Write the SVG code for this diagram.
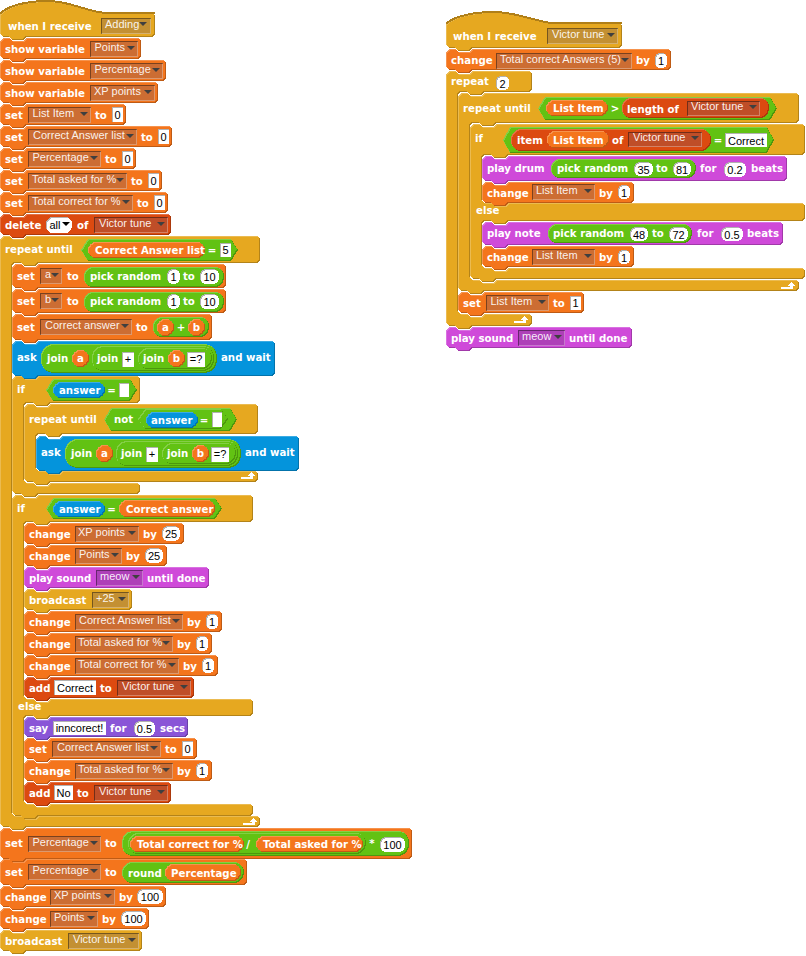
<svg xmlns="http://www.w3.org/2000/svg" width="806" height="956" viewBox="0 0 806 956">
<style>
text{white-space:pre}
.t{font:bold 10.2px "DejaVu Sans",sans-serif;fill:#fff}
.d{font:11px "Liberation Sans",sans-serif;fill:#fff;fill-opacity:.92}
.n{font:11px "Liberation Sans",sans-serif;fill:#000;text-anchor:middle}
.c{text-anchor:middle}
path,rect{shape-rendering:crispEdges}
.b{filter:url(#up)}
.ctl{fill:#e6a820}.var{fill:#f4751c}.lst{fill:#dc4a10}.lks{fill:#8a55d7}.snd{fill:#cf4ad9}.sen{fill:#0494dc}.op{fill:#62c213}
.dv{fill:#cc6d33;filter:url(#in)}.dc{fill:#c39033;filter:url(#in)}.dl{fill:#bf4e28;filter:url(#in)}.ds{fill:#ae40b8;filter:url(#in)}.da{fill:#fff;filter:url(#iw)}
.w{fill:#fff;filter:url(#iw)}
.h{fill:none;stroke:#b07f18;stroke-width:2}
</style>
<defs>
<filter id="up" x="-5%" y="-5%" width="110%" height="110%" color-interpolation-filters="sRGB">
<feOffset in="SourceAlpha" dx="-1" dy="-1" result="a"/><feComposite in="SourceAlpha" in2="a" operator="out" result="e1"/>
<feFlood flood-color="#000" flood-opacity=".22"/><feComposite in2="e1" operator="in" result="dk"/>
<feOffset in="SourceAlpha" dx="1" dy="1" result="c"/><feComposite in="SourceAlpha" in2="c" operator="out" result="e2"/>
<feFlood flood-color="#fff" flood-opacity=".22"/><feComposite in2="e2" operator="in" result="lt"/>
<feMerge><feMergeNode in="SourceGraphic"/><feMergeNode in="dk"/><feMergeNode in="lt"/></feMerge>
</filter>
<filter id="in" x="-5%" y="-5%" width="110%" height="110%" color-interpolation-filters="sRGB">
<feOffset in="SourceAlpha" dx="-1" dy="-1" result="a"/><feComposite in="SourceAlpha" in2="a" operator="out" result="e1"/>
<feFlood flood-color="#fff" flood-opacity=".3"/><feComposite in2="e1" operator="in" result="lt"/>
<feOffset in="SourceAlpha" dx="1" dy="1" result="c"/><feComposite in="SourceAlpha" in2="c" operator="out" result="e2"/>
<feFlood flood-color="#000" flood-opacity=".4"/><feComposite in2="e2" operator="in" result="dk"/>
<feMerge><feMergeNode in="SourceGraphic"/><feMergeNode in="lt"/><feMergeNode in="dk"/></feMerge>
</filter>
<filter id="iw" x="-5%" y="-5%" width="110%" height="110%" color-interpolation-filters="sRGB">
<feOffset in="SourceAlpha" dx="1" dy="1" result="c"/><feComposite in="SourceAlpha" in2="c" operator="out" result="e2"/>
<feFlood flood-color="#000" flood-opacity=".3"/><feComposite in2="e2" operator="in" result="dk"/>
<feMerge><feMergeNode in="SourceGraphic"/><feMergeNode in="dk"/></feMerge>
</filter>
<polygon id="v" points="0,0 8,0 4,4" fill="#3f3f3f"/>
<polygon id="vb" points="0,0 8,0 4,4" fill="#000"/>
<g id="loop"><path d="M0,4H9V3H7L10.500,-1L14,3H12V6H0z" fill="#fff"/></g>
</defs>

<!-- LEFT SCRIPT -->
<g id="hat-adding">
<path class="b ctl" transform="translate(0,0)" d="M0,14C8,5 28,1 48,1C70,1 85,11 105,13H152l3,3V34l-3,3H26l-3,3H12l-3-3H3l-3-3z"/>
<path class="h" d="M0,14C8,5 28,1 48,1C70,1 85,11 105,13H155"/>
<text class="t" x="8" y="30">when I receive</text>
<rect class="dc" x="101" y="18" width="50" height="16"/><text class="d" x="105" y="28">Adding</text><use href="#v" x="139" y="22"/>
</g>
<g id="show-points">
<path class="b var" transform="translate(0,38)" d="M3,0h6l3,3h11l3-3H138l3,3V18l-3,3H26l-3,3H12l-3-3H3l-3-3V3z"/>
<text class="t" x="5" y="53">show variable</text>
<rect class="dv" x="90" y="41" width="48" height="16"/><text class="d" x="94.5" y="51">Points</text><use href="#v" x="127" y="46"/>
</g>
<g id="show-percentage">
<path class="b var" transform="translate(0,60)" d="M3,0h6l3,3h11l3-3H163l3,3V18l-3,3H26l-3,3H12l-3-3H3l-3-3V3z"/>
<text class="t" x="5" y="75">show variable</text>
<rect class="dv" x="90" y="63" width="73" height="16"/><text class="d" x="94.5" y="73">Percentage</text><use href="#v" x="152" y="68"/>
</g>
<g id="show-xp">
<path class="b var" transform="translate(0,82)" d="M3,0h6l3,3h11l3-3H155l3,3V18l-3,3H26l-3,3H12l-3-3H3l-3-3V3z"/>
<text class="t" x="5" y="97">show variable</text>
<rect class="dv" x="90" y="85" width="65" height="16"/><text class="d" x="94" y="95">XP points</text><use href="#v" x="144" y="90"/>
</g>
<g id="set-list-item">
<path class="b var" transform="translate(0,104)" d="M3,0h6l3,3h11l3-3H123l3,3V18l-3,3H26l-3,3H12l-3-3H3l-3-3V3z"/>
<text class="t" x="5" y="119">set</text>
<rect class="dv" x="28" y="107" width="63" height="16"/><text class="d" x="32.5" y="117">List Item</text><use href="#v" x="80" y="112"/>
<text class="t" x="95" y="119">to</text>
<rect class="w" x="112" y="107" width="11" height="15"/><text class="n" x="117.5" y="119">0</text>
</g>
<g id="set-correct-list">
<path class="b var" transform="translate(0,126)" d="M3,0h6l3,3h11l3-3H169l3,3V18l-3,3H26l-3,3H12l-3-3H3l-3-3V3z"/>
<text class="t" x="5" y="141">set</text>
<rect class="dv" x="28" y="129" width="109" height="16"/><text class="d" x="33" y="139">Correct Answer list</text><use href="#v" x="126" y="134"/>
<text class="t" x="141" y="141">to</text>
<rect class="w" x="158" y="129" width="11" height="15"/><text class="n" x="163.5" y="141">0</text>
</g>
<g id="set-percentage">
<path class="b var" transform="translate(0,148)" d="M3,0h6l3,3h11l3-3H133l3,3V18l-3,3H26l-3,3H12l-3-3H3l-3-3V3z"/>
<text class="t" x="5" y="163">set</text>
<rect class="dv" x="28" y="151" width="73" height="16"/><text class="d" x="32.5" y="161">Percentage</text><use href="#v" x="90" y="156"/>
<text class="t" x="105" y="163">to</text>
<rect class="w" x="122" y="151" width="11" height="15"/><text class="n" x="127.5" y="163">0</text>
</g>
<g id="set-total-asked">
<path class="b var" transform="translate(0,170)" d="M3,0h6l3,3h11l3-3H159l3,3V18l-3,3H26l-3,3H12l-3-3H3l-3-3V3z"/>
<text class="t" x="5" y="185">set</text>
<rect class="dv" x="28" y="173" width="99" height="16"/><text class="d" x="32" y="183">Total asked for %</text><use href="#v" x="116" y="178"/>
<text class="t" x="131" y="185">to</text>
<rect class="w" x="148" y="173" width="11" height="15"/><text class="n" x="153.5" y="185">0</text>
</g>
<g id="set-total-correct">
<path class="b var" transform="translate(0,192)" d="M3,0h6l3,3h11l3-3H165l3,3V18l-3,3H26l-3,3H12l-3-3H3l-3-3V3z"/>
<text class="t" x="5" y="207">set</text>
<rect class="dv" x="28" y="195" width="105" height="16"/><text class="d" x="32" y="205">Total correct for %</text><use href="#v" x="122" y="200"/>
<text class="t" x="137" y="207">to</text>
<rect class="w" x="154" y="195" width="11" height="15"/><text class="n" x="159.5" y="207">0</text>
</g>
<g id="delete-all">
<path class="b lst" transform="translate(0,214)" d="M3,0h6l3,3h11l3-3H168l3,3V18l-3,3H26l-3,3H12l-3-3H3l-3-3V3z"/>
<text class="t" x="5" y="229">delete</text>
<rect class="da" x="46" y="217" width="26" height="16" rx="7"/><text class="n" x="55" y="229">all</text><use href="#vb" x="62" y="222"/>
<text class="t" x="77" y="229">of</text>
<rect class="dl" x="94" y="217" width="74" height="16"/><text class="d" x="99" y="227">Victor tune</text><use href="#v" x="157" y="222"/>
</g>
<g id="repeat-until-5">
<path class="b ctl" transform="translate(0,236)" d="M3,0h6l3,3h11l3-3H257l3,3V24l-3,3H38l-3,3H24l-3-3H14l-2,2V578l2,2H21l3,3h11l3-3H257l3,3V588l-3,3H26l-3,3H12l-3-3H3l-3-3V3z"/>
<text class="t" x="5" y="253">repeat until</text>
<path class="b op" d="M88,239H231L238,250L231,261H88L81,250z"/>
<rect class="b var" x="88" y="242" width="117" height="16" rx="8"/><text class="t" x="95" y="254">Correct Answer list</text>
<text class="t c" x="212" y="254">=</text>
<rect class="w" x="220" y="243" width="11" height="14"/><text class="n" x="225.5" y="254">5</text>
<use href="#loop" x="243" y="819"/>
</g>
<g id="set-a">
<path class="b var" transform="translate(12,264)" d="M3,0h6l3,3h11l3-3H211l3,3V21l-3,3H26l-3,3H12l-3-3H3l-3-3V3z"/>
<text class="t" x="17" y="280">set</text>
<rect class="dv" x="40" y="268" width="22" height="16"/><text class="d" x="45" y="278">a</text><use href="#v" x="51" y="273"/>
<text class="t" x="67" y="280">to</text>
<rect class="b op" x="84" y="267" width="140" height="20" rx="9"/><text class="t" x="90" y="280">pick random</text>
<rect class="w" x="167" y="269" width="13" height="15" rx="6"/><text class="n" x="173.5" y="281">1</text>
<text class="t" x="183" y="280">to</text>
<rect class="w" x="200" y="269" width="19" height="15" rx="6"/><text class="n" x="209.5" y="281">10</text>
</g>
<g id="set-b">
<path class="b var" transform="translate(12,289)" d="M3,0h6l3,3h11l3-3H211l3,3V21l-3,3H26l-3,3H12l-3-3H3l-3-3V3z"/>
<text class="t" x="17" y="305">set</text>
<rect class="dv" x="40" y="293" width="22" height="16"/><text class="d" x="45" y="303">b</text><use href="#v" x="51" y="298"/>
<text class="t" x="67" y="305">to</text>
<rect class="b op" x="84" y="292" width="140" height="20" rx="9"/><text class="t" x="90" y="305">pick random</text>
<rect class="w" x="167" y="294" width="13" height="15" rx="6"/><text class="n" x="173.5" y="306">1</text>
<text class="t" x="183" y="305">to</text>
<rect class="w" x="200" y="294" width="19" height="15" rx="6"/><text class="n" x="209.5" y="306">10</text>
</g>
<g id="set-correct-answer">
<path class="b var" transform="translate(12,314)" d="M3,0h6l3,3h11l3-3H197l3,3V23l-3,3H26l-3,3H12l-3-3H3l-3-3V3z"/>
<text class="t" x="17" y="331">set</text>
<rect class="dv" x="40" y="319" width="92" height="16"/><text class="d" x="45" y="329">Correct answer</text><use href="#v" x="121" y="324"/>
<text class="t" x="136" y="331">to</text>
<rect class="b op" x="153" y="317" width="56" height="20" rx="9"/>
<rect class="b var" x="157" y="319" width="17" height="17" rx="8"/><text class="t c" x="165.500" y="331">a</text>
<text class="t c" x="181" y="331">+</text>
<rect class="b var" x="188" y="319" width="17" height="17" rx="8"/><text class="t c" x="196.500" y="331">b</text>
</g>
<g id="ask-join">
<path class="b sen" transform="translate(12,341)" d="M3,0h6l3,3h11l3-3H260l3,3V32l-3,3H26l-3,3H12l-3-3H3l-3-3V3z"/>
<text class="t" x="17" y="361">ask</text>
<rect class="b op" x="41" y="344" width="176" height="29" rx="13"/><text class="t" x="47" y="362">join</text>
<rect class="b var" x="72" y="350" width="17" height="17" rx="8"/><text class="t c" x="80.500" y="362">a</text>
<rect class="b op" x="92" y="346" width="122" height="25" rx="11"/><text class="t" x="97" y="362">join</text>
<rect class="w" x="122" y="352" width="12" height="15"/><text class="n" x="128" y="363">+</text>
<rect class="b op" x="138" y="348" width="74" height="21" rx="10"/><text class="t" x="143" y="362">join</text>
<rect class="b var" x="168" y="350" width="17" height="17" rx="8"/><text class="t c" x="176.500" y="362">b</text>
<rect class="w" x="187" y="352" width="18" height="15"/><text class="n" x="196" y="363">=?</text>
<text class="t" x="221" y="361">and wait</text>
</g>
<g id="if-answer-empty">
<path class="b ctl" transform="translate(12,376)" d="M3,0h6l3,3h11l3-3H125l3,3V24l-3,3H38l-3,3H24l-3-3H14l-2,2V105l2,2H21l3,3h11l3-3H125l3,3V115l-3,3H26l-3,3H12l-3-3H3l-3-3V3z"/>
<text class="t" x="17" y="393">if</text>
<path class="b op" d="M53,379H130L137,390L130,401H53L46,390z"/>
<rect class="b sen" x="53" y="382" width="52" height="16" rx="8"/><text class="t" x="59" y="394">answer</text>
<text class="t c" x="111.500" y="394">=</text>
<rect class="w" x="119" y="383" width="10" height="14"/>
</g>
<g id="repeat-until-not">
<path class="b ctl" transform="translate(24,404)" d="M3,0h6l3,3h11l3-3H231l3,3V27l-3,3H38l-3,3H24l-3-3H14l-2,2V65l2,2H21l3,3h11l3-3H231l3,3V75l-3,3H26l-3,3H12l-3-3H3l-3-3V3z"/>
<text class="t" x="29" y="423">repeat until</text>
<path class="b op" d="M111,408H230L237,419.500L230,431H111L104,419.500z"/>
<text class="t" x="114" y="423">not</text>
<path class="b op" d="M145,409H221L228,419L221,429H145L138,419z"/>
<rect class="b sen" x="146" y="412" width="52" height="16" rx="8"/><text class="t" x="151" y="424">answer</text>
<text class="t c" x="204" y="424">=</text>
<rect class="w" x="212" y="412" width="10" height="15"/>
<use href="#loop" x="241" y="473"/>
</g>
<g id="ask-join-2">
<path class="b sen" transform="translate(36,436)" d="M3,0h6l3,3h11l3-3H260l3,3V32l-3,3H26l-3,3H12l-3-3H3l-3-3V3z"/>
<text class="t" x="41" y="456">ask</text>
<rect class="b op" x="65" y="439" width="176" height="29" rx="13"/><text class="t" x="71" y="457">join</text>
<rect class="b var" x="96" y="445" width="17" height="17" rx="8"/><text class="t c" x="104.500" y="457">a</text>
<rect class="b op" x="116" y="441" width="122" height="25" rx="11"/><text class="t" x="121" y="457">join</text>
<rect class="w" x="146" y="447" width="12" height="15"/><text class="n" x="152" y="458">+</text>
<rect class="b op" x="162" y="443" width="74" height="21" rx="10"/><text class="t" x="167" y="457">join</text>
<rect class="b var" x="192" y="445" width="17" height="17" rx="8"/><text class="t c" x="200.500" y="457">b</text>
<rect class="w" x="211" y="447" width="18" height="15"/><text class="n" x="220" y="458">=?</text>
<text class="t" x="245" y="456">and wait</text>
</g>
<g id="if-answer-correct">
<path class="b ctl" transform="translate(12,495)" d="M3,0h6l3,3h11l3-3H238l3,3V24l-3,3H38l-3,3H24l-3-3H14l-2,2V202l2,2H21l3,3h11l3-3H238l3,3V218l-3,3H38l-3,3H24l-3-3H14l-2,2V307l2,2H21l3,3h11l3-3H238l3,3V318l-3,3H26l-3,3H12l-3-3H3l-3-3V3z"/>
<text class="t" x="17" y="512">if</text>
<path class="b op" d="M53,498H215L222,508.500L215,519H53L46,508.500z"/>
<rect class="b sen" x="53" y="501" width="52" height="16" rx="8"/><text class="t" x="59" y="513">answer</text>
<text class="t c" x="111.500" y="513">=</text>
<rect class="b var" x="119" y="500" width="96" height="17" rx="8"/><text class="t" x="126" y="513">Correct answer</text>
<text class="t" x="18" y="710">else</text>
</g>
<g id="change-xp-25">
<path class="b var" transform="translate(24,523)" d="M3,0h6l3,3h11l3-3H157l3,3V18l-3,3H26l-3,3H12l-3-3H3l-3-3V3z"/>
<text class="t" x="29" y="538">change</text>
<rect class="dv" x="75" y="526" width="64" height="16"/><text class="d" x="78" y="536">XP points</text><use href="#v" x="128" y="531"/>
<text class="t" x="143" y="538">by</text>
<rect class="w" x="162" y="526" width="18" height="15" rx="6"/><text class="n" x="171" y="538">25</text>
</g>
<g id="change-points-25">
<path class="b var" transform="translate(24,545)" d="M3,0h6l3,3h11l3-3H140l3,3V18l-3,3H26l-3,3H12l-3-3H3l-3-3V3z"/>
<text class="t" x="29" y="560">change</text>
<rect class="dv" x="75" y="548" width="47" height="16"/><text class="d" x="79" y="558">Points</text><use href="#v" x="111" y="553"/>
<text class="t" x="126" y="560">by</text>
<rect class="w" x="145" y="548" width="18" height="15" rx="6"/><text class="n" x="154" y="560">25</text>
</g>
<g id="play-meow-1">
<path class="b snd" transform="translate(24,567)" d="M3,0h6l3,3h11l3-3H182l3,3V18l-3,3H26l-3,3H12l-3-3H3l-3-3V3z"/>
<text class="t" x="29" y="582">play sound</text>
<rect class="ds" x="96" y="570" width="47" height="16"/><text class="d" x="100" y="580">meow</text><use href="#v" x="132" y="575"/>
<text class="t" x="147" y="582">until done</text>
</g>
<g id="broadcast-25">
<path class="b ctl" transform="translate(24,589)" d="M3,0h6l3,3h11l3-3H105l3,3V18l-3,3H26l-3,3H12l-3-3H3l-3-3V3z"/>
<text class="t" x="29" y="604">broadcast</text>
<rect class="dc" x="92" y="592" width="37" height="16"/><text class="d" x="96" y="602">+25</text><use href="#v" x="118" y="597"/>
</g>
<g id="change-correct-list">
<path class="b var" transform="translate(24,611)" d="M3,0h6l3,3h11l3-3H195l3,3V18l-3,3H26l-3,3H12l-3-3H3l-3-3V3z"/>
<text class="t" x="29" y="626">change</text>
<rect class="dv" x="75" y="614" width="108" height="16"/><text class="d" x="79" y="624">Correct Answer list</text><use href="#v" x="172" y="619"/>
<text class="t" x="187" y="626">by</text>
<rect class="w" x="206" y="614" width="12" height="15" rx="5"/><text class="n" x="212" y="626">1</text>
</g>
<g id="change-total-asked">
<path class="b var" transform="translate(24,633)" d="M3,0h6l3,3h11l3-3H185l3,3V18l-3,3H26l-3,3H12l-3-3H3l-3-3V3z"/>
<text class="t" x="29" y="648">change</text>
<rect class="dv" x="75" y="636" width="98" height="16"/><text class="d" x="78" y="646">Total asked for %</text><use href="#v" x="162" y="641"/>
<text class="t" x="177" y="648">by</text>
<rect class="w" x="196" y="636" width="12" height="15" rx="5"/><text class="n" x="202" y="648">1</text>
</g>
<g id="change-total-correct">
<path class="b var" transform="translate(24,655)" d="M3,0h6l3,3h11l3-3H191l3,3V18l-3,3H26l-3,3H12l-3-3H3l-3-3V3z"/>
<text class="t" x="29" y="670">change</text>
<rect class="dv" x="75" y="658" width="104" height="16"/><text class="d" x="78" y="668">Total correct for %</text><use href="#v" x="168" y="663"/>
<text class="t" x="183" y="670">by</text>
<rect class="w" x="202" y="658" width="12" height="15" rx="5"/><text class="n" x="208" y="670">1</text>
</g>
<g id="add-correct">
<path class="b lst" transform="translate(24,677)" d="M3,0h6l3,3h11l3-3H167l3,3V18l-3,3H26l-3,3H12l-3-3H3l-3-3V3z"/>
<text class="t" x="29" y="692">add</text>
<rect class="w" x="54" y="680" width="42" height="15"/><text class="n" x="75" y="692">Correct</text>
<text class="t" x="100" y="692">to</text>
<rect class="dl" x="117" y="680" width="74" height="16"/><text class="d" x="122" y="690">Victor tune</text><use href="#v" x="180" y="685"/>
</g>
<g id="say-inncorect">
<path class="b lks" transform="translate(24,717)" d="M3,0h6l3,3h11l3-3H161l3,3V17l-3,3H26l-3,3H12l-3-3H3l-3-3V3z"/>
<text class="t" x="29" y="732">say</text>
<rect class="w" x="53" y="721" width="53" height="14"/><text class="n" x="79.500" y="732">inncorect!</text>
<text class="t" x="110" y="732">for</text>
<rect class="w" x="134" y="721" width="21" height="15" rx="6"/><text class="n" x="144.500" y="733">0.5</text>
<text class="t" x="160" y="732">secs</text>
</g>
<g id="set-correct-list-0">
<path class="b var" transform="translate(24,738)" d="M3,0h6l3,3h11l3-3H170l3,3V18l-3,3H26l-3,3H12l-3-3H3l-3-3V3z"/>
<text class="t" x="29" y="753">set</text>
<rect class="dv" x="52" y="741" width="109" height="16"/><text class="d" x="57" y="751">Correct Answer list</text><use href="#v" x="150" y="746"/>
<text class="t" x="165" y="753">to</text>
<rect class="w" x="182" y="741" width="11" height="15"/><text class="n" x="187.500" y="753">0</text>
</g>
<g id="change-total-asked-2">
<path class="b var" transform="translate(24,760)" d="M3,0h6l3,3h11l3-3H185l3,3V18l-3,3H26l-3,3H12l-3-3H3l-3-3V3z"/>
<text class="t" x="29" y="775">change</text>
<rect class="dv" x="75" y="763" width="98" height="16"/><text class="d" x="78" y="773">Total asked for %</text><use href="#v" x="162" y="768"/>
<text class="t" x="177" y="775">by</text>
<rect class="w" x="196" y="763" width="12" height="15" rx="5"/><text class="n" x="202" y="775">1</text>
</g>
<g id="add-no">
<path class="b lst" transform="translate(24,782)" d="M3,0h6l3,3h11l3-3H144l3,3V18l-3,3H26l-3,3H12l-3-3H3l-3-3V3z"/>
<text class="t" x="29" y="797">add</text>
<rect class="w" x="54" y="785" width="19" height="15"/><text class="n" x="63.500" y="797">No</text>
<text class="t" x="77" y="797">to</text>
<rect class="dl" x="94" y="785" width="74" height="16"/><text class="d" x="99" y="795">Victor tune</text><use href="#v" x="157" y="790"/>
</g>
<g id="set-percentage-calc">
<path class="b var" transform="translate(0,828)" d="M3,0h6l3,3h11l3-3H409l3,3V28l-3,3H26l-3,3H12l-3-3H3l-3-3V3z"/>
<text class="t" x="5" y="847">set</text>
<rect class="dv" x="28" y="836" width="73" height="16"/><text class="d" x="32.500" y="846">Percentage</text><use href="#v" x="90" y="841"/>
<text class="t" x="105" y="847">to</text>
<rect class="b op" x="122" y="831" width="287" height="25" rx="11"/>
<rect class="b op" x="128" y="833" width="238" height="21" rx="10"/>
<rect class="b var" x="130" y="836" width="114" height="16" rx="8"/><text class="t" x="137" y="848">Total correct for %</text>
<text class="t c" x="248" y="848">/</text>
<rect class="b var" x="256" y="836" width="107" height="16" rx="8"/><text class="t" x="263" y="848">Total asked for %</text>
<text class="t c" x="372" y="847">*</text>
<rect class="w" x="380" y="837" width="25" height="15" rx="6"/><text class="n" x="392.500" y="849">100</text>
</g>
<g id="set-percentage-round">
<path class="b var" transform="translate(0,859)" d="M3,0h6l3,3h11l3-3H244l3,3V23l-3,3H26l-3,3H12l-3-3H3l-3-3V3z"/>
<text class="t" x="5" y="876">set</text>
<rect class="dv" x="28" y="864" width="73" height="16"/><text class="d" x="32.500" y="874">Percentage</text><use href="#v" x="90" y="869"/>
<text class="t" x="105" y="876">to</text>
<rect class="b op" x="122" y="862" width="122" height="21" rx="10"/><text class="t" x="128" y="877">round</text>
<rect class="b var" x="165" y="864" width="76" height="17" rx="8"/><text class="t" x="171" y="877">Percentage</text>
</g>
<g id="change-xp-100">
<path class="b var" transform="translate(0,886)" d="M3,0h6l3,3h11l3-3H163l3,3V18l-3,3H26l-3,3H12l-3-3H3l-3-3V3z"/>
<text class="t" x="5" y="901">change</text>
<rect class="dv" x="50" y="889" width="65" height="16"/><text class="d" x="54" y="899">XP points</text><use href="#v" x="104" y="894"/>
<text class="t" x="119" y="901">by</text>
<rect class="w" x="137" y="889" width="26" height="15" rx="6"/><text class="n" x="150" y="901">100</text>
</g>
<g id="change-points-100">
<path class="b var" transform="translate(0,908)" d="M3,0h6l3,3h11l3-3H146l3,3V18l-3,3H26l-3,3H12l-3-3H3l-3-3V3z"/>
<text class="t" x="5" y="923">change</text>
<rect class="dv" x="50" y="911" width="48" height="16"/><text class="d" x="54" y="921">Points</text><use href="#v" x="87" y="916"/>
<text class="t" x="102" y="923">by</text>
<rect class="w" x="121" y="911" width="25" height="15" rx="6"/><text class="n" x="133.500" y="923">100</text>
</g>
<g id="broadcast-victor">
<path class="b ctl" transform="translate(0,930)" d="M3,0h6l3,3h11l3-3H139l3,3V18l-3,3H26l-3,3H12l-3-3H3l-3-3V3z"/>
<text class="t" x="5" y="945">broadcast</text>
<rect class="dc" x="68" y="933" width="71" height="16"/><text class="d" x="73" y="943">Victor tune</text><use href="#v" x="128" y="938"/>
</g>

<!-- RIGHT SCRIPT -->
<g id="hat-victor">
<path class="b ctl" transform="translate(446,11)" d="M0,13C8,5 28,1 48,1C70,1 85,9 105,12H173l3,3V34l-3,3H26l-3,3H12l-3-3H3l-3-3z"/>
<path class="h" transform="translate(446,11)" d="M0,13C8,5 28,1 48,1C70,1 85,9 105,12H176"/>
<text class="t" x="453" y="40">when I receive</text>
<rect class="dc" x="547" y="28" width="71" height="16"/><text class="d" x="552" y="38">Victor tune</text><use href="#v" x="607" y="33"/>
</g>
<g id="change-total-correct-answers">
<path class="b var" transform="translate(446,49)" d="M3,0h6l3,3h11l3-3H222l3,3V18l-3,3H26l-3,3H12l-3-3H3l-3-3V3z"/>
<text class="t" x="451" y="64">change</text>
<rect class="dv" x="496" y="53" width="136" height="16"/><text class="d" x="500" y="63">Total correct Answers (5)</text><use href="#v" x="621" y="58"/>
<text class="t" x="636" y="64">by</text>
<rect class="w" x="655" y="53" width="12" height="15" rx="5"/><text class="n" x="661" y="65">1</text>
</g>
<g id="repeat-2">
<path class="b ctl" transform="translate(446,71)" d="M3,0h6l3,3h11l3-3H83l3,3V18l-3,3H38l-3,3H24l-3-3H14l-2,2V241l2,2H21l3,3h11l3-3H83l3,3V252l-3,3H26l-3,3H12l-3-3H3l-3-3V3z"/>
<text class="t" x="451" y="85">repeat</text>
<rect class="w" x="496" y="76" width="13" height="14" rx="5"/><text class="n" x="502.500" y="88">2</text>
<use href="#loop" x="514" y="317"/>
</g>
<g id="repeat-until-length">
<path class="b ctl" transform="translate(458,93)" d="M3,0h6l3,3h11l3-3H338l3,3V27l-3,3H38l-3,3H24l-3-3H14l-2,2V185l2,2H21l3,3h11l3-3H338l3,3V195l-3,3H26l-3,3H12l-3-3H3l-3-3V3z"/>
<text class="t" x="463" y="112">repeat until</text>
<path class="b op" d="M545,97H770L777,108.500L770,120H545L538,108.500z"/>
<rect class="b var" x="546" y="100" width="62" height="16" rx="8"/><text class="t" x="553" y="112">List Item</text>
<text class="t c" x="615" y="112">&gt;</text>
<rect class="b lst" x="622" y="98" width="147" height="20" rx="9"/><text class="t" x="627" y="113">length of</text>
<rect class="dl" x="687" y="101" width="73" height="15"/><text class="d" x="691" y="110">Victor tune</text><use href="#v" x="749" y="105"/>
<use href="#loop" x="781" y="283"/>
</g>
<g id="if-item-correct">
<path class="b ctl" transform="translate(470,124)" d="M3,0h6l3,3h11l3-3H332l3,3V28l-3,3H38l-3,3H24l-3-3H14l-2,2V77l2,2H21l3,3h11l3-3H332l3,3V94l-3,3H38l-3,3H24l-3-3H14l-2,2V142l2,2H21l3,3h11l3-3H332l3,3V152l-3,3H26l-3,3H12l-3-3H3l-3-3V3z"/>
<text class="t" x="475" y="142">if</text>
<path class="b op" d="M510,127H767L774,140L767,153H510L503,140z"/>
<rect class="b lst" x="511" y="129" width="200" height="22" rx="10"/><text class="t" x="517" y="144">item</text>
<rect class="b var" x="547" y="131" width="62" height="17" rx="8"/><text class="t" x="553" y="144">List Item</text>
<text class="t" x="612" y="144">of</text>
<rect class="dl" x="628" y="132" width="74" height="15"/><text class="d" x="633" y="141">Victor tune</text><use href="#v" x="691" y="136"/>
<text class="t c" x="718" y="144">=</text>
<rect class="w" x="725" y="133" width="42" height="14"/><text class="n" x="746" y="145">Correct</text>
<text class="t" x="476" y="214">else</text>
</g>
<g id="play-drum">
<path class="b snd" transform="translate(482,156)" d="M3,0h6l3,3h11l3-3H302l3,3V22l-3,3H26l-3,3H12l-3-3H3l-3-3V3z"/>
<text class="t" x="487" y="172">play drum</text>
<rect class="b op" x="551" y="159" width="145" height="19" rx="9"/><text class="t" x="557" y="172">pick random</text>
<rect class="w" x="634" y="162" width="19" height="14" rx="6"/><text class="n" x="643.500" y="174">35</text>
<text class="t" x="656" y="172">to</text>
<rect class="w" x="673" y="162" width="18" height="14" rx="6"/><text class="n" x="682" y="174">81</text>
<text class="t" x="700" y="172">for</text>
<rect class="w" x="724" y="162" width="22" height="15" rx="6"/><text class="n" x="735" y="174">0.2</text>
<text class="t" x="751" y="172">beats</text>
</g>
<g id="change-list-item-1">
<path class="b var" transform="translate(482,182)" d="M3,0h6l3,3h11l3-3H149l3,3V18l-3,3H26l-3,3H12l-3-3H3l-3-3V3z"/>
<text class="t" x="487" y="197">change</text>
<rect class="dv" x="532" y="184" width="63" height="16"/><text class="d" x="536" y="194">List Item</text><use href="#v" x="584" y="189"/>
<text class="t" x="599" y="197">by</text>
<rect class="w" x="618" y="185" width="12" height="14" rx="5"/><text class="n" x="624" y="197">1</text>
</g>
<g id="play-note">
<path class="b snd" transform="translate(482,222)" d="M3,0h6l3,3h11l3-3H298l3,3V20l-3,3H26l-3,3H12l-3-3H3l-3-3V3z"/>
<text class="t" x="487" y="237">play note</text>
<rect class="b op" x="548" y="224" width="144" height="19" rx="9"/><text class="t" x="553" y="237">pick random</text>
<rect class="w" x="630" y="227" width="18" height="14" rx="6"/><text class="n" x="639" y="239">48</text>
<text class="t" x="652" y="237">to</text>
<rect class="w" x="669" y="227" width="19" height="14" rx="6"/><text class="n" x="678.500" y="239">72</text>
<text class="t" x="697" y="237">for</text>
<rect class="w" x="721" y="227" width="22" height="14" rx="6"/><text class="n" x="732" y="239">0.5</text>
<text class="t" x="747" y="237">beats</text>
</g>
<g id="change-list-item-2">
<path class="b var" transform="translate(482,246)" d="M3,0h6l3,3h11l3-3H149l3,3V18l-3,3H26l-3,3H12l-3-3H3l-3-3V3z"/>
<text class="t" x="487" y="261">change</text>
<rect class="dv" x="532" y="249" width="63" height="16"/><text class="d" x="536" y="259">List Item</text><use href="#v" x="584" y="254"/>
<text class="t" x="599" y="261">by</text>
<rect class="w" x="618" y="250" width="12" height="14" rx="5"/><text class="n" x="624" y="262">1</text>
</g>
<g id="set-list-item-1">
<path class="b var" transform="translate(458,292)" d="M3,0h6l3,3h11l3-3H123l3,3V18l-3,3H26l-3,3H12l-3-3H3l-3-3V3z"/>
<text class="t" x="463" y="307">set</text>
<rect class="dv" x="486" y="295" width="63" height="16"/><text class="d" x="490.500" y="305">List Item</text><use href="#v" x="538" y="300"/>
<text class="t" x="553" y="307">to</text>
<rect class="w" x="570" y="296" width="11" height="14"/><text class="n" x="575.500" y="307">1</text>
</g>
<g id="play-meow-2">
<path class="b snd" transform="translate(446,327)" d="M3,0h6l3,3h11l3-3H183l3,3V18l-3,3H26l-3,3H12l-3-3H3l-3-3V3z"/>
<text class="t" x="451" y="342">play sound</text>
<rect class="ds" x="518" y="330" width="47" height="16"/><text class="d" x="522" y="340">meow</text><use href="#v" x="554" y="335"/>
<text class="t" x="569" y="342">until done</text>
</g>
</svg>
